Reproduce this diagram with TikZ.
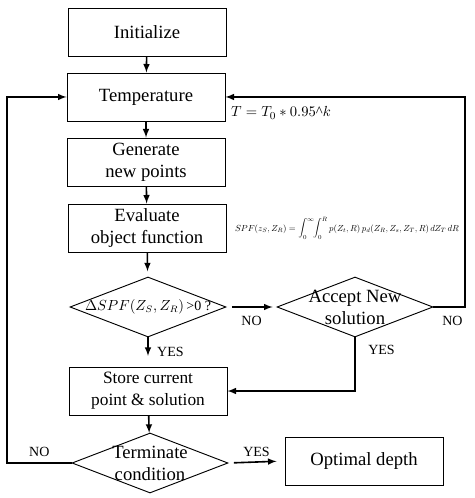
\documentclass[tikz,border=0pt]{standalone}
\usepackage{fontspec}
\setmainfont{Liberation Serif}
\usetikzlibrary{shapes.geometric, positioning}

\begin{document}
\begin{tikzpicture}[x=0.75pt, y=-0.75pt, line width=1.2pt, >=latex,
	procbox/.style={draw, line width=0.7pt, minimum width=118.5pt, minimum height=36pt, inner sep=1pt, align=center, font=\fontsize{14}{16.5}\selectfont},
	decision/.style={draw, diamond, line width=0.7pt, minimum width=117pt, minimum height=45pt, inner sep=0pt, aspect=2.6},
	tag/.style={font=\fontsize{10.5}{12}\selectfont}]

	% fixing the page to the size of the original
	\useasboundingbox (0,0) rectangle (474,498);

	% the main column of boxes
	\node[procbox] (init) at (147,32) {Initialize};
	\node[procbox] (temp) at (146,97) {Temperature};
	\node[procbox] (gen) at (146,162) {Generate\\new points};
	\node[procbox] (eval) at (147,228) {Evaluate\\object function};
	\node[decision, label={[font=\fontsize{10.5}{12}\selectfont]center:$\Delta SPF(Z_S,Z_R)$\,>0 ?}] (delta) at (148,307) {};
	\node[decision, label={[align=center, font=\fontsize{14}{16.5}\selectfont]center:Accept New\\solution}] (acc) at (355,307) {};
	\node[procbox, font=\fontsize{13}{16.5}\selectfont] (store) at (148,391) {Store current\\point \& solution};
	\node[decision, label={[align=center, font=\fontsize{14}{16.5}\selectfont]center:Terminate\\condition}] (term) at (150,463) {};
	\node[procbox] (opt) at (364,461) {Optimal depth};

	% formulas
	\node[anchor=west, font=\fontsize{11}{13}\selectfont] (tform) at (226,113) {$T = T_0 * 0.95$\textasciicircum$k$};
	\node[inner sep=0pt] (sform) at (347,228) {\resizebox{168pt}{!}{$\displaystyle SPF(z_S,Z_R)=\int_0^\infty\!\!\int_0^R p(Z_t,R)\,p_d(Z_R,Z_s,Z_T,R)\,dZ_T\,dR$}};

	% turning points of the loops
	\coordinate (lft) at (7,463);
	\coordinate (rgt) at (465,307);

	% connectors
	\draw[->] (init) -- (temp);
	\draw[->] (temp) -- (gen);
	\draw[->] (gen) -- (eval);
	\draw[->, shorten >=4pt] (eval) -- (delta);
	\draw[->, shorten <=4pt, shorten >=3pt] (delta.east) -- (acc.west) node[tag, midway, below=3pt] {NO};
	\draw[->, shorten >=8pt] (delta.south) -- (store.north) node[tag, midway, right=3pt] {YES};
	\draw[->] (acc.east) -- (rgt) node[tag, below=3pt, pos=0.6] {NO} |- (temp.east);
	\draw[->] (acc.south) |- (store.east) node[tag, pos=0.12, right=6pt] {YES};
	\draw[->] (store) -- (term);
	\draw[->, shorten <=4pt, shorten >=6pt] (term.east) -- (opt.west) node[tag, midway, above] {YES};
	\draw[->] (term.west) -- (lft) node[tag, pos=0.5, above=1pt] {NO} |- (temp.west);

\end{tikzpicture}
\end{document}
